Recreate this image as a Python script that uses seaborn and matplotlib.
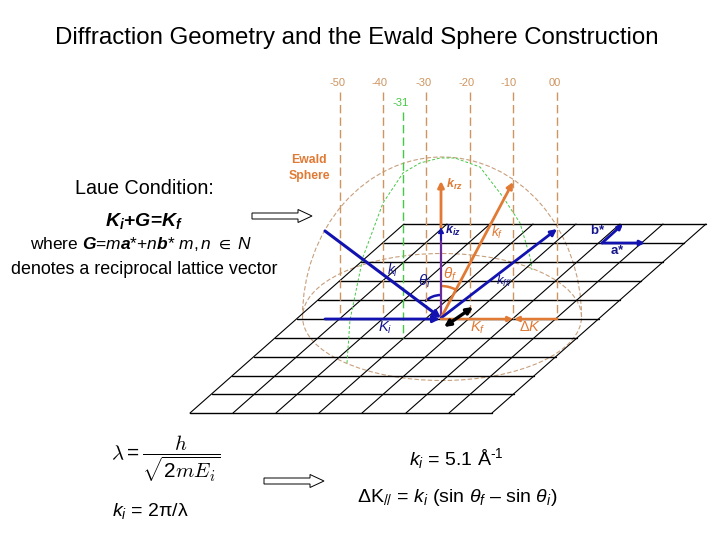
import matplotlib
matplotlib.use("Agg")
import matplotlib.pyplot as plt
import seaborn as sns
import pandas as pd
from matplotlib.patches import Arc, Ellipse, FancyArrow

row_y = [224, 243, 262, 281, 300, 319, 338, 357, 376, 394, 413]
row_left = [404, 382, 361, 339, 318, 297, 275, 254, 232, 212, 190]
row_right = [706, 684, 663, 641, 620, 599, 577, 556, 534, 514, 492]
col_bottom = [190, 233, 276, 319, 362, 406, 449, 492]
col_top = [404, 447, 490, 533, 576, 620, 663, 706]

rod_labels = ["-50", "-40", "-30", "-20", "-10", "00"]
rod_x = [340, 383, 426, 470, 513, 557]
rod_label_x = [337, 380, 424, 467, 509, 555]
rod_top = 92
rod_bottom = 319

green_rod_x = [403, 403]
green_rod_y = [112, 338]
green_arc_x = [347, 350, 363, 383, 403, 420, 440, 455, 480, 503, 520, 530, 532]
green_arc_y = [363, 320, 257, 203, 173, 163, 158, 158, 167, 197, 223, 257, 270]

sphere_center = (442, 317)
sphere_width = 279
sphere_top_height = 320
sphere_floor_height = 127

orange = "#E07A35"
rod_orange = "#CE9560"
tan = "#C79F7C"
blue = "#1212B0"
navy = "#15158C"
green = "#45C845"
purple = "#6A2C9A"

sns.set_theme(style="white")
plt.rcParams["font.family"] = ["Liberation Sans", "DejaVu Sans"]
plt.rcParams["mathtext.fontset"] = "custom"
plt.rcParams["mathtext.rm"] = "Liberation Sans"
plt.rcParams["mathtext.it"] = "Liberation Sans:italic"
plt.rcParams["mathtext.bf"] = "Liberation Sans:bold"
plt.rcParams["mathtext.bfit"] = "Liberation Sans:italic:bold"
plt.rcParams["mathtext.fallback"] = "stixsans"
plt.rcParams["mathtext.default"] = "regular"

fig = plt.figure(figsize=(7.2, 5.4), dpi=100)
ax = fig.add_axes([0, 0, 1, 1])


def segments(starts_x, starts_y, ends_x, ends_y):
    rows = []
    for i, (x0, y0, x1, y1) in enumerate(zip(starts_x, starts_y, ends_x, ends_y)):
        rows.append({"seg": i, "x": x0, "y": y0})
        rows.append({"seg": i, "x": x1, "y": y1})
    return pd.DataFrame(rows)


def draw_segments(df, **kws):
    sns.lineplot(data=df, x="x", y="y", units="seg", estimator=None, sort=False,
                 ax=ax, legend=False, **kws)


# lattice
draw_segments(segments(row_left, row_y, row_right, row_y), color="black", linewidth=1.0)
draw_segments(segments(col_bottom, [413] * 8, col_top, [224] * 8), color="black", linewidth=0.8)

# rods
draw_segments(segments(rod_x, [rod_top] * 6, rod_x, [rod_bottom] * 6),
              color=rod_orange, linewidth=1.0, linestyle=(0, (6, 3)))
sns.lineplot(x=green_rod_x, y=green_rod_y, color=green, linewidth=1.0,
             linestyle=(0, (6, 3)), ax=ax, estimator=None, sort=False)
sns.lineplot(x=green_arc_x, y=green_arc_y, color=green, linewidth=0.7,
             linestyle=(0, (3, 2)), ax=ax, estimator=None, sort=False)

# Ewald sphere, y axis is flipped so the dome is 180-360
ax.add_patch(Arc(sphere_center, sphere_width, sphere_top_height, theta1=180, theta2=360,
                 color=tan, lw=0.8, ls=(0, (4, 2))))
ax.add_patch(Ellipse(sphere_center, sphere_width, sphere_floor_height, fill=False,
                     ec=tan, lw=0.8, ls=(0, (4, 2))))


def arrow(start, end, color, lw=2.0, scale=10, style="-|>"):
    ax.annotate("", xy=end, xytext=start,
                arrowprops=dict(arrowstyle=style, color=color, lw=lw, shrinkA=0, shrinkB=0,
                                mutation_scale=scale))


# k vectors
arrow((441, 228), (441, 181), orange, scale=9)
sns.lineplot(x=[441, 441], y=[318, 232], color=purple, linewidth=1.6, ax=ax, estimator=None, sort=False)
arrow((441, 240), (441, 227), blue, lw=1.2, scale=8)
arrow((441, 318), (513, 182), orange, lw=2.0, scale=9)
arrow((325, 231), (441, 318), blue, lw=2.2, scale=10)
arrow((325, 319), (440, 319), blue, lw=2.0, scale=10)
arrow((441, 318), (557, 229), blue, lw=2.0, scale=9)
arrow((441, 319), (513, 319), orange, lw=1.8, scale=7)
arrow((557, 319), (514, 319), orange, lw=1.8, scale=7)
arrow((602, 243), (623, 224), blue, lw=2.0, scale=7)
arrow((602, 243), (645, 243), blue, lw=2.0, scale=7)

# angle marks
ax.add_patch(Arc((441, 318), 46, 46, theta1=226, theta2=270, color=blue, lw=1.8))
ax.add_patch(Arc((441, 318), 64, 64, theta1=270, theta2=298, color=orange, lw=1.8))

# black dashed double arrow
arrow((444, 327), (473, 307), "black", lw=2.4, scale=9, style="<|-|>")
sns.lineplot(x=[450, 467], y=[323, 311], color="white", linewidth=1.2,
             linestyle=(0, (2, 1.5)), ax=ax, estimator=None, sort=False)

# hollow arrows
for ax_x, ax_y, ax_len in [(252, 216, 60), (264, 481, 60)]:
    ax.add_patch(FancyArrow(ax_x, ax_y, ax_len, 0, width=6, head_width=13, head_length=14,
                            length_includes_head=True, fc="white", ec="black", lw=0.7, zorder=3))

# text
ax.text(357, 38, "Diffraction Geometry and the Ewald Sphere Construction",
        ha="center", va="center", fontsize=17.3, color="black")

for label, x in zip(rod_labels, rod_label_x):
    ax.text(x, 83, label, ha="center", va="center", fontsize=8, color=rod_orange)
ax.text(401, 103, "-31", ha="center", va="center", fontsize=8, color=green)
ax.text(309, 160, "Ewald", ha="center", va="center", fontsize=8.8, color=orange, fontweight="bold")
ax.text(309, 176, "Sphere", ha="center", va="center", fontsize=8.8, color=orange, fontweight="bold")

ax.text(144, 188, "Laue Condition:", ha="center", va="center", fontsize=14.2, color="black")
ax.text(144, 221, r"$\mathbfit{K_i}$+$\mathbfit{G}$=$\mathbfit{K_f}$", ha="center", va="center",
        fontsize=14, color="black", fontweight="bold")
ax.text(141, 244, r"where $\mathbfit{G}$=$\mathit{m}\mathbfit{a}$*+$\mathit{n}\mathbfit{b}$* $\mathit{m,n}$ $\in$ $\mathit{N}$",
        ha="center", va="center", fontsize=12.5, color="black")
ax.text(144, 269, "denotes a reciprocal lattice vector", ha="center", va="center",
        fontsize=12.9, color="black")

small = [
    (454, 184, r"$\mathbfit{k_{rz}}$", orange, 9),
    (453, 230, r"$\mathbfit{k_{iz}}$", navy, 9),
    (497, 232, r"$\mathit{k_f}$", orange, 10),
    (393, 270, r"$\mathit{k_i}$", navy, 10),
    (424, 281, r"$\mathit{\theta_i}$", navy, 11),
    (450, 274, r"$\mathit{\theta_f}$", orange, 11),
    (504, 281, r"$\mathit{k_{f//}}$", navy, 9.5),
    (385, 328, r"$\mathit{K_i}$", navy, 10.5),
    (478, 328, r"$\mathit{K_f}$", orange, 10.5),
    (530, 327, r"$\mathit{\Delta K}$", orange, 10.5),
    (598, 231, r"$\mathbf{b}$*", navy, 9.5),
    (617, 250, r"$\mathbf{a}$*", navy, 9.5),
]
for x, y, s, c, size in small:
    ax.text(x, y, s, ha="center", va="center", fontsize=size, color=c, fontweight="bold")

ax.text(166, 459, r"$\mathit{\lambda}=\dfrac{\mathit{h}}{\sqrt{2\mathit{m}\mathit{E_i}}}$",
        ha="center", va="center", fontsize=15, color="black", math_fontfamily="cm")
ax.text(150, 511, r"$\mathit{k_i}$ = 2$\pi$/$\lambda$", ha="center", va="center", fontsize=14, color="black")
ax.text(456, 459, r"$\mathit{k_i}$ = 5.1 Å$^{\text{-1}}$", ha="center", va="center", fontsize=14, color="black")
ax.text(457, 497, r"ΔK$_{//}$ = $\mathit{k_i}$ (sin $\mathit{\theta_f}$ – sin $\mathit{\theta_i}$)",
        ha="center", va="center", fontsize=14, color="black")

ax.set_xlim(0, 720)
ax.set_ylim(540, 0)
ax.axis("off")
fig.savefig("out.png", dpi=100)
